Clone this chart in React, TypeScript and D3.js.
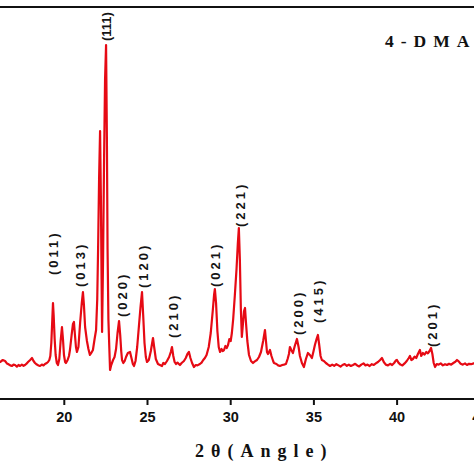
import * as d3 from "d3";

// XRD pattern: [2θ (deg), intensity (a.u.)]
const pattern: [number, number][] = [
  [16.0, 182], [16.14, 185], [16.3, 195], [16.44, 190], [16.55, 178], [16.62, 175], [16.75, 168], [16.86, 165],
  [16.95, 172], [17.04, 170], [17.15, 162], [17.25, 170], [17.34, 165], [17.45, 172], [17.55, 166], [17.64, 170],
  [17.75, 178], [17.82, 185], [17.95, 195], [18.06, 205], [18.15, 190], [18.24, 180], [18.35, 172], [18.45, 168],
  [18.54, 165], [18.65, 172], [18.75, 168], [18.84, 175], [18.95, 180], [19.02, 185], [19.1, 195], [19.16, 215],
  [19.22, 280], [19.28, 400], [19.32, 480], [19.36, 420], [19.42, 300], [19.48, 220], [19.55, 180], [19.62, 170],
  [19.7, 200], [19.78, 290], [19.86, 360], [19.92, 300], [19.98, 220], [20.05, 185], [20.1, 180], [20.2, 195],
  [20.28, 215], [20.34, 245], [20.44, 320], [20.52, 375], [20.58, 385], [20.64, 320], [20.7, 260], [20.76, 235],
  [20.85, 260], [20.95, 380], [21.05, 480], [21.12, 535], [21.18, 470], [21.25, 360], [21.36, 290], [21.45, 250],
  [21.54, 220], [21.62, 230], [21.72, 245], [21.82, 300], [21.91, 345], [21.98, 500], [22.03, 745], [22.09, 1100],
  [22.15, 1340], [22.2, 1000], [22.24, 600], [22.27, 335], [22.33, 700], [22.39, 1200], [22.45, 1600], [22.51, 1770],
  [22.56, 1300], [22.6, 750], [22.65, 400], [22.69, 295], [22.75, 145], [22.82, 170], [22.93, 195], [23.02, 210],
  [23.11, 250], [23.2, 330], [23.29, 390], [23.36, 320], [23.42, 240], [23.47, 195], [23.55, 180], [23.63, 190],
  [23.71, 210], [23.82, 230], [23.95, 235], [24.05, 200], [24.12, 175], [24.19, 165], [24.28, 190], [24.38, 260],
  [24.48, 360], [24.58, 460], [24.67, 535], [24.74, 420], [24.82, 280], [24.9, 210], [24.97, 185], [25.08, 195],
  [25.2, 240], [25.33, 305], [25.4, 260], [25.5, 200], [25.63, 175], [25.75, 170], [25.87, 165], [25.95, 180],
  [26.05, 175], [26.17, 190], [26.3, 210], [26.4, 235], [26.47, 260], [26.55, 215], [26.63, 185], [26.71, 175],
  [26.8, 182], [26.95, 170], [27.05, 180], [27.19, 190], [27.3, 205], [27.4, 225], [27.49, 235], [27.58, 205],
  [27.68, 180], [27.79, 160], [27.9, 170], [28.0, 168], [28.15, 175], [28.25, 182], [28.35, 195], [28.45, 205],
  [28.55, 220], [28.68, 260], [28.8, 330], [28.92, 440], [29.0, 520], [29.05, 550], [29.12, 480], [29.2, 340],
  [29.28, 260], [29.36, 235], [29.45, 250], [29.52, 240], [29.6, 245], [29.68, 265], [29.76, 255], [29.84, 270],
  [29.92, 300], [30.0, 290], [30.07, 330], [30.15, 400], [30.25, 520], [30.35, 650], [30.43, 780], [30.49, 855],
  [30.55, 700], [30.61, 450], [30.67, 310], [30.74, 380], [30.8, 440], [30.86, 455], [30.92, 380], [31.0, 290],
  [31.1, 220], [31.22, 190], [31.34, 180], [31.45, 188], [31.58, 195], [31.7, 210], [31.82, 235], [31.95, 290],
  [32.06, 345], [32.12, 290], [32.18, 235], [32.24, 225], [32.36, 245], [32.45, 215], [32.55, 190], [32.6, 180],
  [32.75, 175], [32.85, 168], [32.96, 165], [33.1, 170], [33.2, 172], [33.32, 175], [33.42, 200], [33.5, 225],
  [33.56, 260], [33.64, 245], [33.74, 230], [33.85, 265], [33.98, 300], [34.08, 260], [34.16, 215], [34.28, 180],
  [34.4, 160], [34.52, 200], [34.64, 230], [34.76, 220], [34.88, 205], [34.98, 240], [35.06, 270], [35.16, 300],
  [35.24, 320], [35.32, 270], [35.4, 215], [35.48, 195], [35.6, 190], [35.72, 180], [35.85, 172], [35.97, 165],
  [36.1, 172], [36.22, 166], [36.35, 174], [36.48, 168], [36.6, 162], [36.72, 170], [36.85, 175], [36.98, 166],
  [37.1, 172], [37.22, 165], [37.35, 170], [37.48, 176], [37.6, 168], [37.72, 163], [37.85, 172], [37.98, 178],
  [38.1, 168], [38.22, 172], [38.35, 165], [38.48, 174], [38.6, 170], [38.72, 178], [38.85, 185], [38.98, 195],
  [39.09, 205], [39.2, 185], [39.32, 172], [39.45, 168], [39.58, 176], [39.7, 170], [39.82, 180], [39.92, 192],
  [39.99, 195], [40.08, 182], [40.2, 172], [40.32, 168], [40.45, 178], [40.58, 190], [40.7, 205], [40.77, 215],
  [40.86, 195], [40.95, 200], [41.05, 212], [41.15, 205], [41.25, 225], [41.37, 245], [41.45, 215], [41.55, 230],
  [41.65, 222], [41.75, 235], [41.85, 228], [41.95, 240], [42.04, 255], [42.12, 225], [42.2, 180], [42.28, 160],
  [42.38, 175], [42.5, 172], [42.62, 178], [42.75, 168], [42.88, 174], [43.0, 170], [43.12, 176], [43.25, 172],
  [43.38, 180], [43.5, 186], [43.6, 195], [43.7, 188], [43.82, 176], [43.95, 172], [44.08, 178], [44.2, 170],
  [44.32, 176], [44.45, 174], [44.6, 178], [44.8, 175],
];

// peak indexing labels: [hkl, 2θ, intensity at label foot]
const peakLabels: [string, number, number][] = [
  ["(011)", 19.32, 620],
  ["(013)", 20.94, 560],
  ["(111)", 22.51, 1790],
  ["(020)", 23.47, 410],
  ["(120)", 24.73, 555],
  ["(210)", 26.53, 305],
  ["(021)", 29.05, 560],
  ["(221)", 30.56, 860],
  ["(200)", 34.04, 320],
  ["(415)", 35.24, 380],
  ["(201)", 42.1, 260],
];

const xTicks = [20, 25, 30, 35, 40, 45];
const sampleName = "4 - D M A";
const xTitle = "2θ(Angle)";

export default function App() {
  const W = 474, H = 474;
  const x = d3.scaleLinear().domain([20, 40]).range([64.3, 397.1]);
  const y = d3.scaleLinear().domain([0, 1960]).range([399, 7]);
  const line = d3.line<[number, number]>().x((d) => x(d[0])).y((d) => y(d[1]));
  const red = "#e60a14";
  const serif = "'Liberation Serif', 'Times New Roman', serif";
  const sans = "'Liberation Sans', Arial, sans-serif";

  return (
    <svg width={W} height={H} style={{ position: "absolute", left: 0, top: 0, background: "#fff" }}>
      {/* frame: top edge and x axis */}
      <line x1={0} x2={W} y1={7} y2={7} stroke="#111" strokeWidth={2} />
      <line x1={0} x2={W} y1={399} y2={399} stroke="#111" strokeWidth={2} />
      {xTicks.map((t) => (
        <g key={t}>
          <line x1={x(t)} x2={x(t)} y1={399} y2={405} stroke="#111" strokeWidth={2} />
          <text x={x(t)} y={422} textAnchor="middle" fontSize="14.5" fontWeight="bold"
            fontFamily={sans} fill="#111">{t}</text>
        </g>
      ))}
      <path d={line(pattern) ?? ""} fill="none" stroke={red} strokeWidth={2.2} strokeLinejoin="round" />
      {peakLabels.map(([lab, a, v]) => (
        <text key={lab} transform={`translate(${x(a)},${y(v)}) rotate(-90)`} dy="0.36em"
          fontSize="13" fontWeight="bold" letterSpacing={lab === "(111)" ? 0 : 3}
          fontFamily={sans} fill="#151515">{lab}</text>
      ))}
      <text x={385} y={47} fontSize="17.5" fontWeight="bold" letterSpacing={1.3} fontFamily={serif} fill="#111">
        {sampleName.replace(/ /g, "\u00a0")}
      </text>
      <text x={195} y={457} fontSize="18" fontWeight="bold" letterSpacing={7}
        fontFamily={serif} fill="#111">{xTitle}</text>
    </svg>
  );
}
